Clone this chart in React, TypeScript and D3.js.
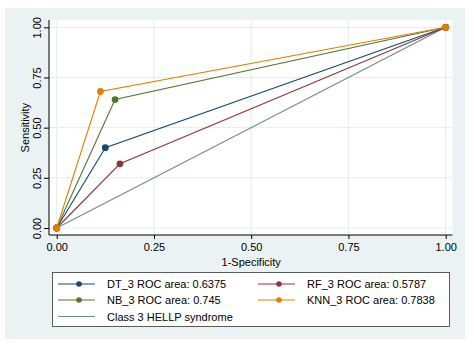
import React, { useEffect, useRef } from 'react';
import * as d3 from 'd3';

// ROC curves: each model has one operating point between (0,0) and (1,1)
const models = ['DT_3', 'RF_3', 'NB_3', 'KNN_3'];
const fpr = [0.125, 0.1626, 0.15, 0.1124];
const tpr = [0.4, 0.32, 0.64, 0.68];
const areas = ['0.6375', '0.5787', '0.745', '0.7838'];
const colors = ['#1a476f', '#90353b', '#55752f', '#e37e00'];
const refLabel = 'Class 3 HELLP syndrome';
const refColor = '#6e8e84';
const ticks = [0, 0.25, 0.5, 0.75, 1];

const W = 474;
const H = 351;
const font = '"Liberation Sans", Arial, sans-serif';

export default function App() {
  const ref = useRef<SVGSVGElement>(null);

  useEffect(() => {
    const svg = d3.select(ref.current);
    svg.selectAll('*').remove();

    // outer stata-ish background
    svg.append('rect').attr('width', W).attr('height', H).attr('fill', '#fff');
    svg.append('rect').attr('x', 5).attr('y', 8).attr('width', 460).attr('height', 331).attr('fill', '#eaf2f3');

    const x = d3.scaleLinear().domain([0, 1]).range([56.7, 445.7]);
    const y = d3.scaleLinear().domain([0, 1]).range([228, 27.3]);

    // plot region
    svg.append('rect').attr('x', 49).attr('y', 20).attr('width', 403.5).attr('height', 215).attr('fill', '#fff');

    // grid
    const g = svg.append('g');
    g.selectAll('.gy').data(ticks).enter().append('line')
      .attr('x1', 49).attr('x2', 452.5)
      .attr('y1', d => y(d)).attr('y2', d => y(d))
      .attr('stroke', '#e4ecee').attr('stroke-width', 1);
    g.selectAll('.gx').data(ticks).enter().append('line')
      .attr('y1', 20).attr('y2', 235)
      .attr('x1', d => x(d)).attr('x2', d => x(d))
      .attr('stroke', '#e4ecee').attr('stroke-width', 1);

    // axes
    const yAxis = d3.axisLeft(y).tickValues(ticks).tickSize(5).tickPadding(6).tickFormat(d3.format('.2f'));
    const ya = svg.append('g').attr('transform', 'translate(49,0)').call(yAxis);
    ya.select('.domain').attr('d', 'M0,20V235').attr('stroke', '#000');
    ya.selectAll('.tick line').attr('stroke', '#000');
    ya.selectAll('.tick text')
      .attr('transform', 'rotate(-90)')
      .attr('x', 0).attr('y', -8).attr('dy', 0)
      .attr('text-anchor', 'middle')
      .attr('font-family', font).attr('font-size', 11).attr('fill', '#000');

    const xAxis = d3.axisBottom(x).tickValues(ticks).tickSize(4).tickPadding(4).tickFormat(d3.format('.2f'));
    const xa = svg.append('g').attr('transform', 'translate(0,235)').call(xAxis);
    xa.select('.domain').attr('d', 'M49,0H452.5').attr('stroke', '#000');
    xa.selectAll('.tick line').attr('stroke', '#000');
    xa.selectAll('.tick text').attr('font-family', font).attr('font-size', 11).attr('fill', '#000');

    svg.append('text').text('1-Specificity')
      .attr('x', x(0.5)).attr('y', 266).attr('text-anchor', 'middle')
      .attr('font-family', font).attr('font-size', 11);
    svg.append('text').text('Sensitivity')
      .attr('transform', `translate(29,${y(0.5)}) rotate(-90)`).attr('text-anchor', 'middle')
      .attr('font-family', font).attr('font-size', 11);

    // curves
    const line = d3.line<[number, number]>().x(d => x(d[0])).y(d => y(d[1]));
    const plot = svg.append('g');
    plot.append('path').attr('d', line([[0, 0], [1, 1]]))
      .attr('fill', 'none').attr('stroke', refColor).attr('stroke-width', 1.1);
    models.forEach((m, i) => {
      const pts: [number, number][] = [[0, 0], [fpr[i], tpr[i]], [1, 1]];
      plot.append('path').attr('d', line(pts))
        .attr('fill', 'none').attr('stroke', colors[i]).attr('stroke-width', 1.1);
      plot.selectAll(null).data(pts).enter().append('circle')
        .attr('cx', d => x(d[0])).attr('cy', d => y(d[1])).attr('r', 3.4)
        .attr('fill', colors[i]);
    });

    // legend
    const lg = svg.append('g');
    lg.append('rect').attr('x', 52.5).attr('y', 272.5).attr('width', 397).attr('height', 54)
      .attr('fill', '#fff').attr('stroke', '#333').attr('stroke-width', 0.8);
    const items = models.map((m, i) => ({ label: `${m} ROC area: ${areas[i]}`, color: colors[i], marker: true }));
    items.push({ label: refLabel, color: refColor, marker: false });
    const rowY = [284, 300, 316.5];
    items.forEach((it, i) => {
      const col = i < 4 ? i % 2 : 0;
      const row = Math.floor(i / 2);
      const x0 = col === 0 ? 58 : 258;
      const yy = rowY[row];
      lg.append('line').attr('x1', x0).attr('x2', x0 + 37).attr('y1', yy).attr('y2', yy)
        .attr('stroke', it.color).attr('stroke-width', 1.1);
      if (it.marker) lg.append('circle').attr('cx', x0 + 21).attr('cy', yy).attr('r', 2.8).attr('fill', it.color);
      lg.append('text').text(it.label).attr('x', x0 + 49).attr('y', yy + 4)
        .attr('font-family', font).attr('font-size', 11).attr('fill', '#000');
    });
  }, []);

  return <svg ref={ref} width={W} height={H} style={{ display: 'block', position: 'absolute', left: 0, top: 0 }} />;
}
